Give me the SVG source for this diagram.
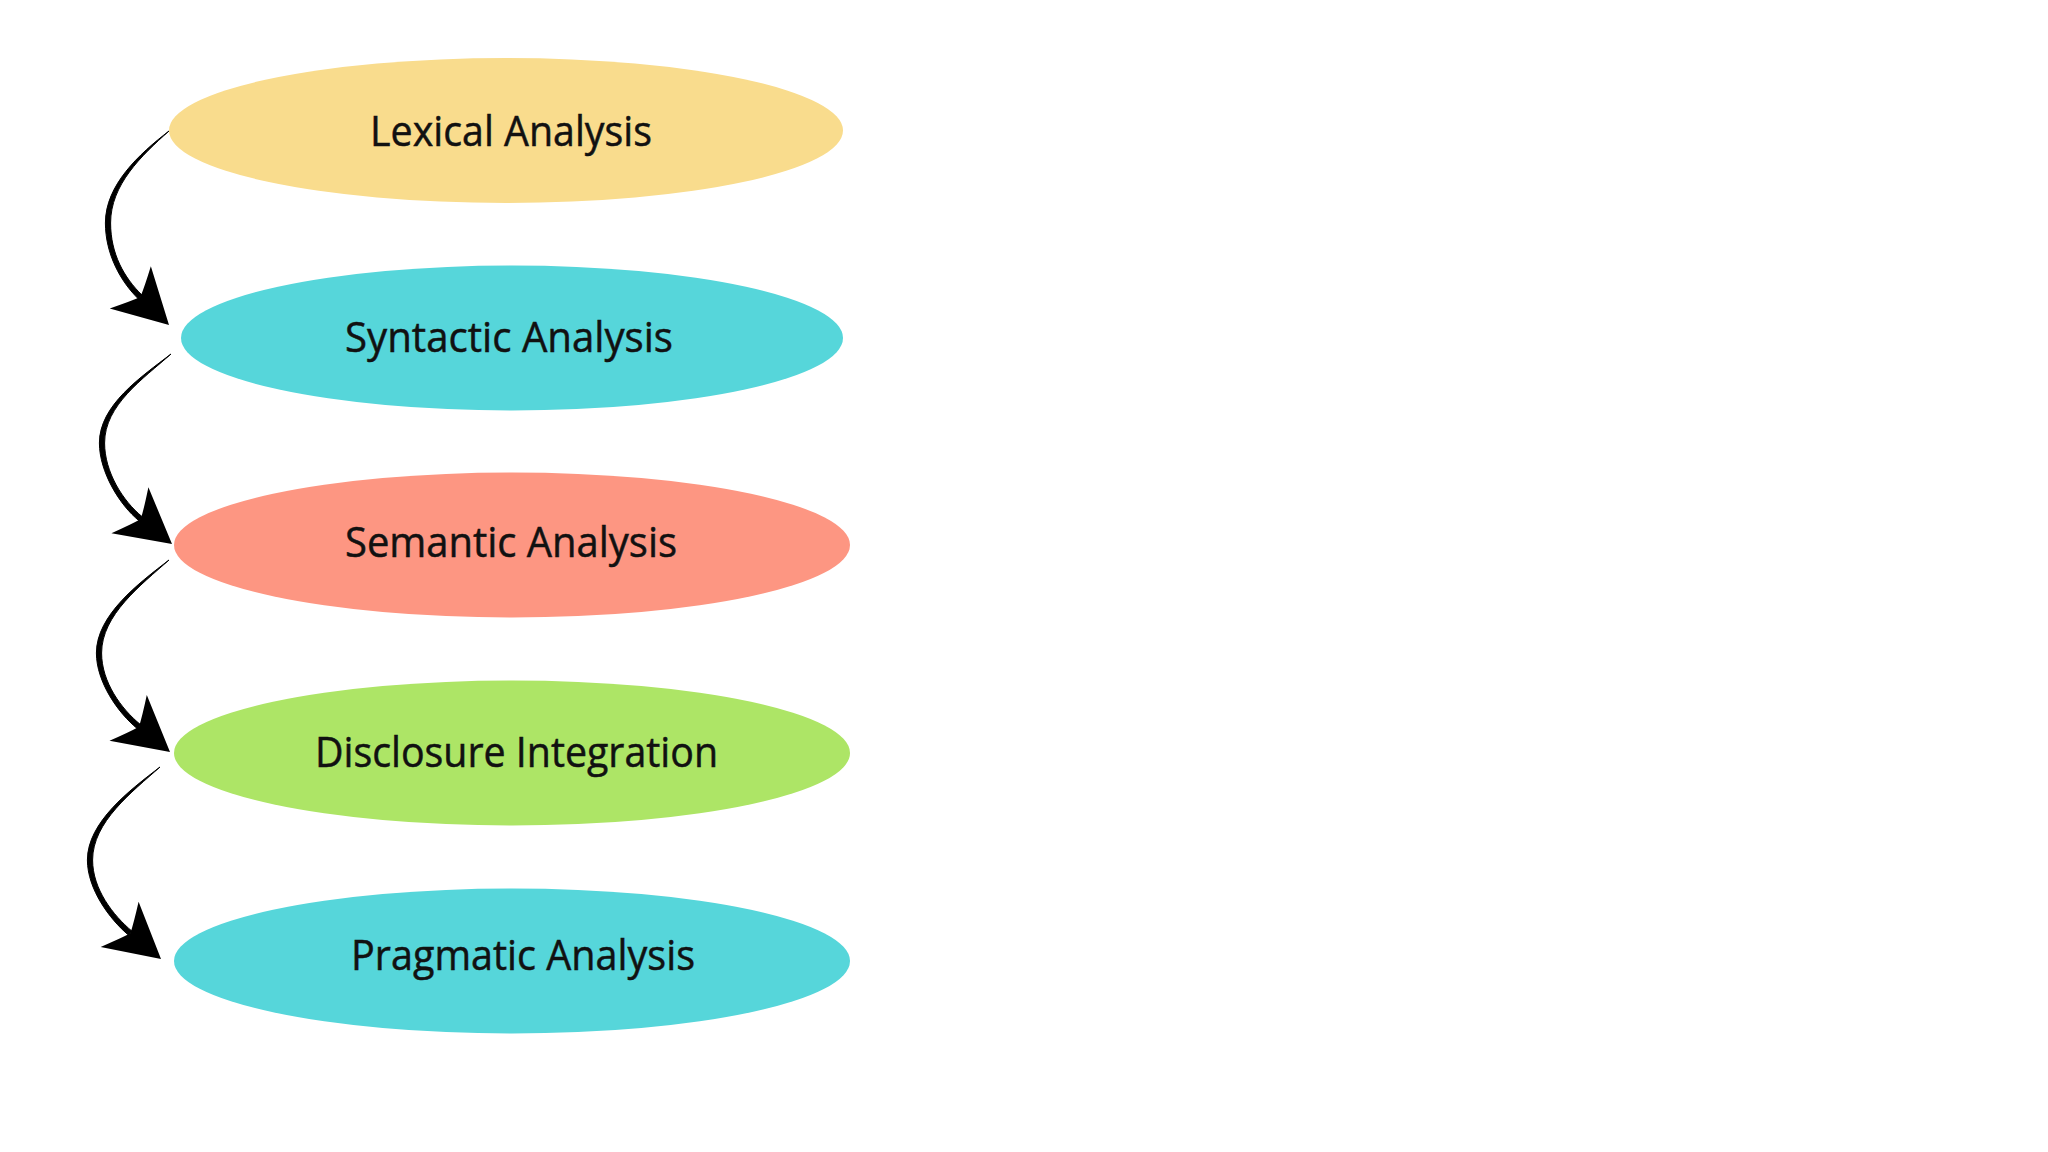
<svg xmlns="http://www.w3.org/2000/svg" xmlns:xlink="http://www.w3.org/1999/xlink" width="2048" height="1152" viewBox="0 0 2048 1152">
<style>
.lbl{font-family:"Open Sans","Noto Sans","Liberation Sans",sans-serif;font-size:42px;fill:#111111;stroke:#111111;stroke-width:0.5}
.shaft{fill:#000000;stroke:#000000;stroke-width:1;stroke-linejoin:round}
.head{fill:#000000}
</style>
<defs>
<path id="head" d="M0,0 L-54,-29.5 Q-44,-10 -40,0 Q-44,10 -54,29.5 Z"/>
</defs>
<rect x="0" y="0" width="2048" height="1152" fill="#ffffff"/>
<g id="node-lexical">
<ellipse cx="506" cy="130.5" rx="337" ry="72.5" fill="#F9DC8D"/>
<text class="lbl" x="370" y="146" textLength="282" lengthAdjust="spacingAndGlyphs">Lexical Analysis</text>
</g>
<g id="node-syntactic">
<ellipse cx="512" cy="338" rx="331" ry="72.5" fill="#56D6DA"/>
<text class="lbl" x="345" y="352" textLength="328" lengthAdjust="spacingAndGlyphs">Syntactic Analysis</text>
</g>
<g id="node-semantic">
<ellipse cx="512" cy="545" rx="338" ry="72.5" fill="#FD9682"/>
<text class="lbl" x="345" y="557" textLength="332" lengthAdjust="spacingAndGlyphs">Semantic Analysis</text>
</g>
<g id="node-disclosure">
<ellipse cx="512" cy="753" rx="338" ry="72.5" fill="#ADE566"/>
<text class="lbl" x="315" y="767" textLength="403" lengthAdjust="spacingAndGlyphs">Disclosure Integration</text>
</g>
<g id="node-pragmatic">
<ellipse cx="512" cy="961" rx="338" ry="72.5" fill="#56D6DA"/>
<text class="lbl" x="351" y="970" textLength="344" lengthAdjust="spacingAndGlyphs">Pragmatic Analysis</text>
</g>
<g id="connectors">
<path class="shaft" d="M169,131 C139,154 105.4,185 105.4,223 C105.4,254 120.6,281.6 138.5,299 L142.1,295.2 C124.2,277.8 110.6,254 110.6,223 C110.6,185 141,156 169,131 Z"/>
<use xlink:href="#head" href="#head" class="head" transform="translate(169,325) rotate(44.2)"/>
<path class="shaft" d="M171,354 C141,377 99.4,405 99.4,443 C99.4,472 119.7,505.2 139.2,520.9 L142.4,516.9 C122.9,501.2 104.6,472 104.6,443 C104.6,405 143,379 171,354 Z"/>
<use xlink:href="#head" href="#head" class="head" transform="translate(172,544) rotate(38.8)"/>
<path class="shaft" d="M169,560 C139,583 96.4,615 96.4,653 C96.4,682 118,712.9 137.4,728.7 L140.6,724.7 C121.2,708.9 101.6,682 101.6,653 C101.6,615 141,585 169,560 Z"/>
<use xlink:href="#head" href="#head" class="head" transform="translate(170,752) rotate(39.2)"/>
<path class="shaft" d="M160,767 C130,790 87.4,822 87.4,860 C87.4,889 109.5,919.2 128.7,935.3 L132.1,931.3 C112.9,915.2 92.6,889 92.6,860 C92.6,822 132,792 160,767 Z"/>
<use xlink:href="#head" href="#head" class="head" transform="translate(161,959) rotate(40)"/>
</g>
</svg>
